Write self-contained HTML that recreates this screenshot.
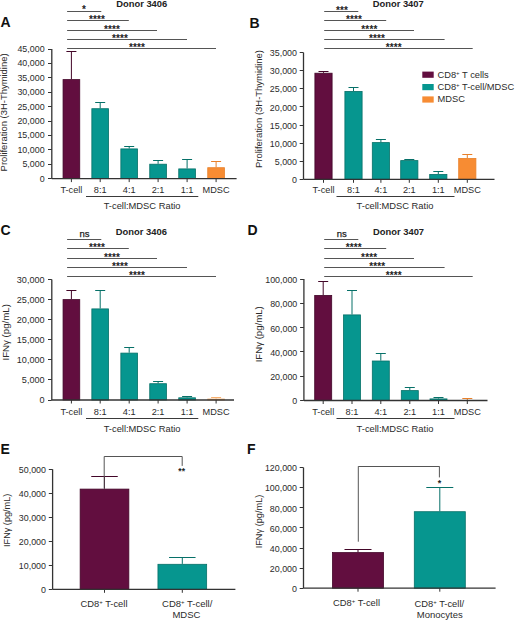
<!DOCTYPE html>
<html><head><meta charset="utf-8"><style>
html,body{margin:0;padding:0;background:#fff;width:520px;height:620px;overflow:hidden}
svg{display:block;font-family:"Liberation Sans",sans-serif}
</style></head><body>
<svg width="520" height="620" viewBox="0 0 520 620">
<rect width="520" height="620" fill="#fff"/>
<text x="0.5" y="27.3" font-size="14" text-anchor="start" font-weight="bold" fill="#111" >A</text>
<text x="116.2" y="7.2" font-size="9.4" text-anchor="start" font-weight="bold" fill="#222" >Donor 3406</text>
<line x1="67.1" y1="11.5" x2="101.3" y2="11.5" stroke="#555" stroke-width="1.0"/>
<line x1="67.1" y1="20.5" x2="128.8" y2="20.5" stroke="#555" stroke-width="1.0"/>
<line x1="67.1" y1="30.5" x2="157" y2="30.5" stroke="#555" stroke-width="1.0"/>
<line x1="67.1" y1="39.5" x2="187" y2="39.5" stroke="#555" stroke-width="1.0"/>
<line x1="67.1" y1="48.5" x2="216" y2="48.5" stroke="#555" stroke-width="1.0"/>
<text x="84" y="12.8" font-size="10" text-anchor="middle" font-weight="bold" fill="#222" letter-spacing="0.15">*</text>
<text x="97" y="22.9" font-size="10" text-anchor="middle" font-weight="bold" fill="#222" letter-spacing="0.15">****</text>
<text x="112" y="32.9" font-size="10" text-anchor="middle" font-weight="bold" fill="#222" letter-spacing="0.15">****</text>
<text x="120" y="41.9" font-size="10" text-anchor="middle" font-weight="bold" fill="#222" letter-spacing="0.15">****</text>
<text x="137" y="50.9" font-size="10" text-anchor="middle" font-weight="bold" fill="#222" letter-spacing="0.15">****</text>
<line x1="51.8" y1="49" x2="51.8" y2="178.6" stroke="#333333" stroke-width="1.3"/>
<line x1="48" y1="178.5" x2="51.8" y2="178.5" stroke="#333333" stroke-width="1.0"/>
<text x="44.6" y="181.6" font-size="8.9" text-anchor="end" font-weight="normal" fill="#2b2b2b" >0</text>
<line x1="48" y1="164.5" x2="51.8" y2="164.5" stroke="#333333" stroke-width="1.0"/>
<text x="44.6" y="167.2" font-size="8.9" text-anchor="end" font-weight="normal" fill="#2b2b2b" >5,000</text>
<line x1="48" y1="149.5" x2="51.8" y2="149.5" stroke="#333333" stroke-width="1.0"/>
<text x="44.6" y="152.8" font-size="8.9" text-anchor="end" font-weight="normal" fill="#2b2b2b" >10,000</text>
<line x1="48" y1="135.5" x2="51.8" y2="135.5" stroke="#333333" stroke-width="1.0"/>
<text x="44.6" y="138.4" font-size="8.9" text-anchor="end" font-weight="normal" fill="#2b2b2b" >15,000</text>
<line x1="48" y1="121.5" x2="51.8" y2="121.5" stroke="#333333" stroke-width="1.0"/>
<text x="44.6" y="124" font-size="8.9" text-anchor="end" font-weight="normal" fill="#2b2b2b" >20,000</text>
<line x1="48" y1="106.5" x2="51.8" y2="106.5" stroke="#333333" stroke-width="1.0"/>
<text x="44.6" y="109.6" font-size="8.9" text-anchor="end" font-weight="normal" fill="#2b2b2b" >25,000</text>
<line x1="48" y1="92.5" x2="51.8" y2="92.5" stroke="#333333" stroke-width="1.0"/>
<text x="44.6" y="95.2" font-size="8.9" text-anchor="end" font-weight="normal" fill="#2b2b2b" >30,000</text>
<line x1="48" y1="77.5" x2="51.8" y2="77.5" stroke="#333333" stroke-width="1.0"/>
<text x="44.6" y="80.8" font-size="8.9" text-anchor="end" font-weight="normal" fill="#2b2b2b" >35,000</text>
<line x1="48" y1="63.5" x2="51.8" y2="63.5" stroke="#333333" stroke-width="1.0"/>
<text x="44.6" y="66.4" font-size="8.9" text-anchor="end" font-weight="normal" fill="#2b2b2b" >40,000</text>
<line x1="48" y1="49.5" x2="51.8" y2="49.5" stroke="#333333" stroke-width="1.0"/>
<text x="44.6" y="52" font-size="8.9" text-anchor="end" font-weight="normal" fill="#2b2b2b" >45,000</text>
<text x="0" y="0" font-size="9.45" text-anchor="middle" fill="#2b2b2b" transform="translate(6.8,112.4) rotate(-90)">Proliferation (3H-Thymidine)</text>
<line x1="71.4" y1="51.5" x2="71.4" y2="79.2" stroke="#420628" stroke-width="1.0"/>
<line x1="66.4" y1="51.5" x2="76.4" y2="51.5" stroke="#420628" stroke-width="1.0"/>
<rect x="63.05" y="79.6" width="16.7" height="99" fill="#620e3f" stroke="#420628" stroke-width="0.8"/>
<line x1="71.4" y1="178.6" x2="71.4" y2="182.1" stroke="#333333" stroke-width="1.0"/>
<text x="71.4" y="192.5" font-size="9.2" text-anchor="middle" font-weight="normal" fill="#2b2b2b" >T-cell</text>
<line x1="100.2" y1="102.5" x2="100.2" y2="108.3" stroke="#067068" stroke-width="1.0"/>
<line x1="95.2" y1="102.5" x2="105.2" y2="102.5" stroke="#067068" stroke-width="1.0"/>
<rect x="91.85" y="108.7" width="16.7" height="69.9" fill="#06968f" stroke="#067068" stroke-width="0.8"/>
<line x1="100.2" y1="178.6" x2="100.2" y2="182.1" stroke="#333333" stroke-width="1.0"/>
<text x="100.2" y="192.5" font-size="9.2" text-anchor="middle" font-weight="normal" fill="#2b2b2b" >8:1</text>
<line x1="129.2" y1="146" x2="129.2" y2="148.5" stroke="#067068" stroke-width="1.0"/>
<line x1="124.2" y1="146.5" x2="134.2" y2="146.5" stroke="#067068" stroke-width="1.0"/>
<rect x="120.85" y="148.9" width="16.7" height="29.7" fill="#06968f" stroke="#067068" stroke-width="0.8"/>
<line x1="129.2" y1="178.6" x2="129.2" y2="182.1" stroke="#333333" stroke-width="1.0"/>
<text x="129.2" y="192.5" font-size="9.2" text-anchor="middle" font-weight="normal" fill="#2b2b2b" >4:1</text>
<line x1="158.1" y1="160.4" x2="158.1" y2="163.8" stroke="#067068" stroke-width="1.0"/>
<line x1="153.1" y1="160.5" x2="163.1" y2="160.5" stroke="#067068" stroke-width="1.0"/>
<rect x="149.75" y="164.2" width="16.7" height="14.4" fill="#06968f" stroke="#067068" stroke-width="0.8"/>
<line x1="158.1" y1="178.6" x2="158.1" y2="182.1" stroke="#333333" stroke-width="1.0"/>
<text x="158.1" y="192.5" font-size="9.2" text-anchor="middle" font-weight="normal" fill="#2b2b2b" >2:1</text>
<line x1="187.1" y1="159.8" x2="187.1" y2="168.5" stroke="#067068" stroke-width="1.0"/>
<line x1="182.1" y1="159.5" x2="192.1" y2="159.5" stroke="#067068" stroke-width="1.0"/>
<rect x="178.75" y="168.9" width="16.7" height="9.7" fill="#06968f" stroke="#067068" stroke-width="0.8"/>
<line x1="187.1" y1="178.6" x2="187.1" y2="182.1" stroke="#333333" stroke-width="1.0"/>
<text x="187.1" y="192.5" font-size="9.2" text-anchor="middle" font-weight="normal" fill="#2b2b2b" >1:1</text>
<line x1="216.1" y1="161.9" x2="216.1" y2="167.3" stroke="#e8802a" stroke-width="1.0"/>
<line x1="211.1" y1="161.5" x2="221.1" y2="161.5" stroke="#e8802a" stroke-width="1.0"/>
<rect x="207.75" y="167.7" width="16.7" height="10.9" fill="#f78c33" stroke="#e8802a" stroke-width="0.8"/>
<line x1="216.1" y1="178.6" x2="216.1" y2="182.1" stroke="#333333" stroke-width="1.0"/>
<text x="216.1" y="192.5" font-size="9.2" text-anchor="middle" font-weight="normal" fill="#2b2b2b" >MDSC</text>
<line x1="51.8" y1="178.6" x2="236.6" y2="178.6" stroke="#333333" stroke-width="1.3"/>
<line x1="86" y1="196.5" x2="198.3" y2="196.5" stroke="#3a3a3a" stroke-width="1.0"/>
<text x="142.1" y="209.3" font-size="9.35" text-anchor="middle" font-weight="normal" fill="#2b2b2b" >T-cell:MDSC Ratio</text>
<text x="249.5" y="27.7" font-size="14" text-anchor="start" font-weight="bold" fill="#111" >B</text>
<text x="372.7" y="7.2" font-size="9.4" text-anchor="start" font-weight="bold" fill="#222" >Donor 3407</text>
<line x1="324.2" y1="11.5" x2="358.3" y2="11.5" stroke="#555" stroke-width="1.0"/>
<line x1="324.2" y1="20.5" x2="386.2" y2="20.5" stroke="#555" stroke-width="1.0"/>
<line x1="324.2" y1="30.5" x2="414" y2="30.5" stroke="#555" stroke-width="1.0"/>
<line x1="324.2" y1="39.5" x2="444.6" y2="39.5" stroke="#555" stroke-width="1.0"/>
<line x1="324.2" y1="48.5" x2="472.7" y2="48.5" stroke="#555" stroke-width="1.0"/>
<text x="342" y="13.5" font-size="10" text-anchor="middle" font-weight="bold" fill="#222" letter-spacing="0.15">***</text>
<text x="354" y="22.5" font-size="10" text-anchor="middle" font-weight="bold" fill="#222" letter-spacing="0.15">****</text>
<text x="369.4" y="32.5" font-size="10" text-anchor="middle" font-weight="bold" fill="#222" letter-spacing="0.15">****</text>
<text x="377" y="41.5" font-size="10" text-anchor="middle" font-weight="bold" fill="#222" letter-spacing="0.15">****</text>
<text x="393.8" y="50.5" font-size="10" text-anchor="middle" font-weight="bold" fill="#222" letter-spacing="0.15">****</text>
<line x1="303.5" y1="52.6" x2="303.5" y2="179.3" stroke="#333333" stroke-width="1.3"/>
<line x1="299.7" y1="179.5" x2="303.5" y2="179.5" stroke="#333333" stroke-width="1.0"/>
<text x="297" y="182.9" font-size="8.9" text-anchor="end" font-weight="normal" fill="#2b2b2b" >0</text>
<line x1="299.7" y1="161.5" x2="303.5" y2="161.5" stroke="#333333" stroke-width="1.0"/>
<text x="297" y="164.8" font-size="8.9" text-anchor="end" font-weight="normal" fill="#2b2b2b" >5,000</text>
<line x1="299.7" y1="143.5" x2="303.5" y2="143.5" stroke="#333333" stroke-width="1.0"/>
<text x="297" y="146.7" font-size="8.9" text-anchor="end" font-weight="normal" fill="#2b2b2b" >10,000</text>
<line x1="299.7" y1="125.5" x2="303.5" y2="125.5" stroke="#333333" stroke-width="1.0"/>
<text x="297" y="128.6" font-size="8.9" text-anchor="end" font-weight="normal" fill="#2b2b2b" >15,000</text>
<line x1="299.7" y1="106.5" x2="303.5" y2="106.5" stroke="#333333" stroke-width="1.0"/>
<text x="297" y="110.5" font-size="8.9" text-anchor="end" font-weight="normal" fill="#2b2b2b" >20,000</text>
<line x1="299.7" y1="88.5" x2="303.5" y2="88.5" stroke="#333333" stroke-width="1.0"/>
<text x="297" y="92.4" font-size="8.9" text-anchor="end" font-weight="normal" fill="#2b2b2b" >25,000</text>
<line x1="299.7" y1="70.5" x2="303.5" y2="70.5" stroke="#333333" stroke-width="1.0"/>
<text x="297" y="74.3" font-size="8.9" text-anchor="end" font-weight="normal" fill="#2b2b2b" >30,000</text>
<line x1="299.7" y1="52.5" x2="303.5" y2="52.5" stroke="#333333" stroke-width="1.0"/>
<text x="297" y="56.2" font-size="8.9" text-anchor="end" font-weight="normal" fill="#2b2b2b" >35,000</text>
<text x="0" y="0" font-size="9.45" text-anchor="middle" fill="#2b2b2b" transform="translate(262.1,109) rotate(-90)">Proliferation (3H-Thymidine)</text>
<line x1="323.5" y1="71.5" x2="323.5" y2="72.8" stroke="#420628" stroke-width="1.0"/>
<line x1="318.5" y1="71.5" x2="328.5" y2="71.5" stroke="#420628" stroke-width="1.0"/>
<rect x="314.9" y="73.2" width="17.2" height="106.1" fill="#620e3f" stroke="#420628" stroke-width="0.8"/>
<line x1="323.5" y1="179.3" x2="323.5" y2="182.8" stroke="#333333" stroke-width="1.0"/>
<text x="323.5" y="192.9" font-size="9.2" text-anchor="middle" font-weight="normal" fill="#2b2b2b" >T-cell</text>
<line x1="353.5" y1="87.5" x2="353.5" y2="91" stroke="#067068" stroke-width="1.0"/>
<line x1="348.5" y1="87.5" x2="358.5" y2="87.5" stroke="#067068" stroke-width="1.0"/>
<rect x="344.9" y="91.4" width="17.2" height="87.9" fill="#06968f" stroke="#067068" stroke-width="0.8"/>
<line x1="353.5" y1="179.3" x2="353.5" y2="182.8" stroke="#333333" stroke-width="1.0"/>
<text x="353.5" y="192.9" font-size="9.2" text-anchor="middle" font-weight="normal" fill="#2b2b2b" >8:1</text>
<line x1="380.9" y1="139.4" x2="380.9" y2="142.2" stroke="#067068" stroke-width="1.0"/>
<line x1="375.9" y1="139.5" x2="385.9" y2="139.5" stroke="#067068" stroke-width="1.0"/>
<rect x="372.3" y="142.6" width="17.2" height="36.7" fill="#06968f" stroke="#067068" stroke-width="0.8"/>
<line x1="380.9" y1="179.3" x2="380.9" y2="182.8" stroke="#333333" stroke-width="1.0"/>
<text x="380.9" y="192.9" font-size="9.2" text-anchor="middle" font-weight="normal" fill="#2b2b2b" >4:1</text>
<line x1="409.3" y1="159.5" x2="409.3" y2="160.2" stroke="#067068" stroke-width="1.0"/>
<line x1="404.3" y1="159.5" x2="414.3" y2="159.5" stroke="#067068" stroke-width="1.0"/>
<rect x="400.7" y="160.6" width="17.2" height="18.7" fill="#06968f" stroke="#067068" stroke-width="0.8"/>
<line x1="409.3" y1="179.3" x2="409.3" y2="182.8" stroke="#333333" stroke-width="1.0"/>
<text x="409.3" y="192.9" font-size="9.2" text-anchor="middle" font-weight="normal" fill="#2b2b2b" >2:1</text>
<line x1="438.3" y1="171.3" x2="438.3" y2="174" stroke="#067068" stroke-width="1.0"/>
<line x1="433.3" y1="171.5" x2="443.3" y2="171.5" stroke="#067068" stroke-width="1.0"/>
<rect x="429.7" y="174.4" width="17.2" height="4.9" fill="#06968f" stroke="#067068" stroke-width="0.8"/>
<line x1="438.3" y1="179.3" x2="438.3" y2="182.8" stroke="#333333" stroke-width="1.0"/>
<text x="438.3" y="192.9" font-size="9.2" text-anchor="middle" font-weight="normal" fill="#2b2b2b" >1:1</text>
<line x1="467.3" y1="154.4" x2="467.3" y2="158" stroke="#e8802a" stroke-width="1.0"/>
<line x1="462.3" y1="154.5" x2="472.3" y2="154.5" stroke="#e8802a" stroke-width="1.0"/>
<rect x="458.7" y="158.4" width="17.2" height="20.9" fill="#f78c33" stroke="#e8802a" stroke-width="0.8"/>
<line x1="467.3" y1="179.3" x2="467.3" y2="182.8" stroke="#333333" stroke-width="1.0"/>
<text x="467.3" y="192.9" font-size="9.2" text-anchor="middle" font-weight="normal" fill="#2b2b2b" >MDSC</text>
<line x1="303.5" y1="179.3" x2="494.5" y2="179.3" stroke="#333333" stroke-width="1.3"/>
<line x1="336.5" y1="196.5" x2="454.5" y2="196.5" stroke="#3a3a3a" stroke-width="1.0"/>
<text x="395" y="209.3" font-size="9.35" text-anchor="middle" font-weight="normal" fill="#2b2b2b" >T-cell:MDSC Ratio</text>
<rect x="422.3" y="71.6" width="11.4" height="6.2" fill="#620e3f"/>
<text x="437.5" y="77.5" font-size="9.3" text-anchor="start" font-weight="normal" fill="#2b2b2b" >CD8<tspan dy='-3' font-size='6'>+</tspan><tspan dy='3'> T cells</tspan></text>
<rect x="422.3" y="84" width="11.4" height="6.2" fill="#06968f"/>
<text x="437.5" y="89.9" font-size="9.3" text-anchor="start" font-weight="normal" fill="#2b2b2b" >CD8<tspan dy='-3' font-size='6'>+</tspan><tspan dy='3'> T-cell/MDSC</tspan></text>
<rect x="422.3" y="96.4" width="11.4" height="6.2" fill="#f78c33"/>
<text x="437.5" y="102.3" font-size="9.3" text-anchor="start" font-weight="normal" fill="#2b2b2b" >MDSC</text>
<text x="0.5" y="235.3" font-size="14" text-anchor="start" font-weight="bold" fill="#111" >C</text>
<text x="115.8" y="235.4" font-size="9.4" text-anchor="start" font-weight="bold" fill="#222" >Donor 3406</text>
<line x1="67.1" y1="239.5" x2="101.3" y2="239.5" stroke="#555" stroke-width="1.0"/>
<line x1="67.1" y1="248.5" x2="128.8" y2="248.5" stroke="#555" stroke-width="1.0"/>
<line x1="67.1" y1="258.5" x2="157" y2="258.5" stroke="#555" stroke-width="1.0"/>
<line x1="67.1" y1="267.5" x2="187" y2="267.5" stroke="#555" stroke-width="1.0"/>
<line x1="67.1" y1="276.5" x2="216" y2="276.5" stroke="#555" stroke-width="1.0"/>
<text x="84.6" y="237" font-size="9.5" text-anchor="middle" font-weight="normal" fill="#222" stroke="#222" stroke-width="0.25">ns</text>
<text x="97" y="250.5" font-size="10" text-anchor="middle" font-weight="bold" fill="#222" letter-spacing="0.15">****</text>
<text x="112" y="260.5" font-size="10" text-anchor="middle" font-weight="bold" fill="#222" letter-spacing="0.15">****</text>
<text x="120" y="269.5" font-size="10" text-anchor="middle" font-weight="bold" fill="#222" letter-spacing="0.15">****</text>
<text x="137" y="278.5" font-size="10" text-anchor="middle" font-weight="bold" fill="#222" letter-spacing="0.15">****</text>
<line x1="51.8" y1="279.4" x2="51.8" y2="400" stroke="#333333" stroke-width="1.3"/>
<line x1="48" y1="400.5" x2="51.8" y2="400.5" stroke="#333333" stroke-width="1.0"/>
<text x="44.6" y="403.1" font-size="9.1" text-anchor="end" font-weight="normal" fill="#2b2b2b" >0</text>
<line x1="48" y1="379.5" x2="51.8" y2="379.5" stroke="#333333" stroke-width="1.0"/>
<text x="44.6" y="383" font-size="9.1" text-anchor="end" font-weight="normal" fill="#2b2b2b" >5,000</text>
<line x1="48" y1="359.5" x2="51.8" y2="359.5" stroke="#333333" stroke-width="1.0"/>
<text x="44.6" y="362.9" font-size="9.1" text-anchor="end" font-weight="normal" fill="#2b2b2b" >10,000</text>
<line x1="48" y1="339.5" x2="51.8" y2="339.5" stroke="#333333" stroke-width="1.0"/>
<text x="44.6" y="342.8" font-size="9.1" text-anchor="end" font-weight="normal" fill="#2b2b2b" >15,000</text>
<line x1="48" y1="319.5" x2="51.8" y2="319.5" stroke="#333333" stroke-width="1.0"/>
<text x="44.6" y="322.7" font-size="9.1" text-anchor="end" font-weight="normal" fill="#2b2b2b" >20,000</text>
<line x1="48" y1="299.5" x2="51.8" y2="299.5" stroke="#333333" stroke-width="1.0"/>
<text x="44.6" y="302.6" font-size="9.1" text-anchor="end" font-weight="normal" fill="#2b2b2b" >25,000</text>
<line x1="48" y1="279.5" x2="51.8" y2="279.5" stroke="#333333" stroke-width="1.0"/>
<text x="44.6" y="282.5" font-size="9.1" text-anchor="end" font-weight="normal" fill="#2b2b2b" >30,000</text>
<text x="0" y="0" font-size="9.7" text-anchor="middle" fill="#2b2b2b" transform="translate(8.7,332.3) rotate(-90)">IFNγ (pg/mL)</text>
<line x1="71.4" y1="290.2" x2="71.4" y2="299.2" stroke="#420628" stroke-width="1.0"/>
<line x1="66.4" y1="290.5" x2="76.4" y2="290.5" stroke="#420628" stroke-width="1.0"/>
<rect x="63.05" y="299.6" width="16.7" height="100.4" fill="#620e3f" stroke="#420628" stroke-width="0.8"/>
<line x1="71.4" y1="400" x2="71.4" y2="403.5" stroke="#333333" stroke-width="1.0"/>
<text x="71.4" y="414.5" font-size="9.2" text-anchor="middle" font-weight="normal" fill="#2b2b2b" >T-cell</text>
<line x1="100.2" y1="290.6" x2="100.2" y2="308.5" stroke="#067068" stroke-width="1.0"/>
<line x1="95.2" y1="290.5" x2="105.2" y2="290.5" stroke="#067068" stroke-width="1.0"/>
<rect x="91.85" y="308.9" width="16.7" height="91.1" fill="#06968f" stroke="#067068" stroke-width="0.8"/>
<line x1="100.2" y1="400" x2="100.2" y2="403.5" stroke="#333333" stroke-width="1.0"/>
<text x="100.2" y="414.5" font-size="9.2" text-anchor="middle" font-weight="normal" fill="#2b2b2b" >8:1</text>
<line x1="129.2" y1="347.9" x2="129.2" y2="352.7" stroke="#067068" stroke-width="1.0"/>
<line x1="124.2" y1="347.5" x2="134.2" y2="347.5" stroke="#067068" stroke-width="1.0"/>
<rect x="120.85" y="353.1" width="16.7" height="46.9" fill="#06968f" stroke="#067068" stroke-width="0.8"/>
<line x1="129.2" y1="400" x2="129.2" y2="403.5" stroke="#333333" stroke-width="1.0"/>
<text x="129.2" y="414.5" font-size="9.2" text-anchor="middle" font-weight="normal" fill="#2b2b2b" >4:1</text>
<line x1="158.1" y1="381.2" x2="158.1" y2="383.3" stroke="#067068" stroke-width="1.0"/>
<line x1="153.1" y1="381.5" x2="163.1" y2="381.5" stroke="#067068" stroke-width="1.0"/>
<rect x="149.75" y="383.7" width="16.7" height="16.3" fill="#06968f" stroke="#067068" stroke-width="0.8"/>
<line x1="158.1" y1="400" x2="158.1" y2="403.5" stroke="#333333" stroke-width="1.0"/>
<text x="158.1" y="414.5" font-size="9.2" text-anchor="middle" font-weight="normal" fill="#2b2b2b" >2:1</text>
<line x1="187.1" y1="396.9" x2="187.1" y2="397.4" stroke="#067068" stroke-width="1.0"/>
<line x1="182.1" y1="396.5" x2="192.1" y2="396.5" stroke="#067068" stroke-width="1.0"/>
<rect x="178.75" y="397.8" width="16.7" height="2.2" fill="#06968f" stroke="#067068" stroke-width="0.8"/>
<line x1="187.1" y1="400" x2="187.1" y2="403.5" stroke="#333333" stroke-width="1.0"/>
<text x="187.1" y="414.5" font-size="9.2" text-anchor="middle" font-weight="normal" fill="#2b2b2b" >1:1</text>
<line x1="216.1" y1="397.6" x2="216.1" y2="398.6" stroke="#f6b070" stroke-width="1.0"/>
<line x1="211.1" y1="397.5" x2="221.1" y2="397.5" stroke="#f6b070" stroke-width="1.0"/>
<rect x="207.75" y="399" width="16.7" height="1" fill="#f8c48c" stroke="#f6b070" stroke-width="0.8"/>
<line x1="216.1" y1="400" x2="216.1" y2="403.5" stroke="#333333" stroke-width="1.0"/>
<text x="216.1" y="414.5" font-size="9.2" text-anchor="middle" font-weight="normal" fill="#2b2b2b" >MDSC</text>
<line x1="51.8" y1="400" x2="234" y2="400" stroke="#333333" stroke-width="1.3"/>
<line x1="86" y1="418.5" x2="198.3" y2="418.5" stroke="#3a3a3a" stroke-width="1.0"/>
<text x="142.1" y="431.8" font-size="9.35" text-anchor="middle" font-weight="normal" fill="#2b2b2b" >T-cell:MDSC Ratio</text>
<text x="247.6" y="235" font-size="14" text-anchor="start" font-weight="bold" fill="#111" >D</text>
<text x="373" y="235.4" font-size="9.4" text-anchor="start" font-weight="bold" fill="#222" >Donor 3407</text>
<line x1="324.2" y1="239.5" x2="358.3" y2="239.5" stroke="#555" stroke-width="1.0"/>
<line x1="324.2" y1="248.5" x2="386.2" y2="248.5" stroke="#555" stroke-width="1.0"/>
<line x1="324.2" y1="258.5" x2="414" y2="258.5" stroke="#555" stroke-width="1.0"/>
<line x1="324.2" y1="267.5" x2="444.6" y2="267.5" stroke="#555" stroke-width="1.0"/>
<line x1="324.2" y1="276.5" x2="472.7" y2="276.5" stroke="#555" stroke-width="1.0"/>
<text x="341.7" y="237" font-size="9.5" text-anchor="middle" font-weight="normal" fill="#222" stroke="#222" stroke-width="0.25">ns</text>
<text x="353.8" y="250.5" font-size="10" text-anchor="middle" font-weight="bold" fill="#222" letter-spacing="0.15">****</text>
<text x="369.2" y="260.5" font-size="10" text-anchor="middle" font-weight="bold" fill="#222" letter-spacing="0.15">****</text>
<text x="377.3" y="269.5" font-size="10" text-anchor="middle" font-weight="bold" fill="#222" letter-spacing="0.15">****</text>
<text x="393.8" y="278.5" font-size="10" text-anchor="middle" font-weight="bold" fill="#222" letter-spacing="0.15">****</text>
<line x1="303.9" y1="279" x2="303.9" y2="400.5" stroke="#333333" stroke-width="1.3"/>
<line x1="300.1" y1="400.5" x2="303.9" y2="400.5" stroke="#333333" stroke-width="1.0"/>
<text x="297.3" y="404.4" font-size="8.9" text-anchor="end" font-weight="normal" fill="#2b2b2b" >0</text>
<line x1="300.1" y1="376.5" x2="303.9" y2="376.5" stroke="#333333" stroke-width="1.0"/>
<text x="297.3" y="380.1" font-size="8.9" text-anchor="end" font-weight="normal" fill="#2b2b2b" >20,000</text>
<line x1="300.1" y1="351.5" x2="303.9" y2="351.5" stroke="#333333" stroke-width="1.0"/>
<text x="297.3" y="355.8" font-size="8.9" text-anchor="end" font-weight="normal" fill="#2b2b2b" >40,000</text>
<line x1="300.1" y1="327.5" x2="303.9" y2="327.5" stroke="#333333" stroke-width="1.0"/>
<text x="297.3" y="331.5" font-size="8.9" text-anchor="end" font-weight="normal" fill="#2b2b2b" >60,000</text>
<line x1="300.1" y1="303.5" x2="303.9" y2="303.5" stroke="#333333" stroke-width="1.0"/>
<text x="297.3" y="307.2" font-size="8.9" text-anchor="end" font-weight="normal" fill="#2b2b2b" >80,000</text>
<line x1="300.1" y1="279.5" x2="303.9" y2="279.5" stroke="#333333" stroke-width="1.0"/>
<text x="297.3" y="282.9" font-size="8.9" text-anchor="end" font-weight="normal" fill="#2b2b2b" >100,000</text>
<text x="0" y="0" font-size="9.65" text-anchor="middle" fill="#2b2b2b" transform="translate(261.7,334.25) rotate(-90)">IFNγ (pg/mL)</text>
<line x1="323.2" y1="281.5" x2="323.2" y2="295" stroke="#420628" stroke-width="1.0"/>
<line x1="318.2" y1="281.5" x2="328.2" y2="281.5" stroke="#420628" stroke-width="1.0"/>
<rect x="314.7" y="295.4" width="17" height="105.1" fill="#620e3f" stroke="#420628" stroke-width="0.8"/>
<line x1="323.2" y1="400.5" x2="323.2" y2="404" stroke="#333333" stroke-width="1.0"/>
<text x="323.2" y="414.6" font-size="9.2" text-anchor="middle" font-weight="normal" fill="#2b2b2b" >T-cell</text>
<line x1="352" y1="290.8" x2="352" y2="314.5" stroke="#067068" stroke-width="1.0"/>
<line x1="347" y1="290.5" x2="357" y2="290.5" stroke="#067068" stroke-width="1.0"/>
<rect x="343.5" y="314.9" width="17" height="85.6" fill="#06968f" stroke="#067068" stroke-width="0.8"/>
<line x1="352" y1="400.5" x2="352" y2="404" stroke="#333333" stroke-width="1.0"/>
<text x="352" y="414.6" font-size="9.2" text-anchor="middle" font-weight="normal" fill="#2b2b2b" >8:1</text>
<line x1="380.8" y1="353.8" x2="380.8" y2="360.6" stroke="#067068" stroke-width="1.0"/>
<line x1="375.8" y1="353.5" x2="385.8" y2="353.5" stroke="#067068" stroke-width="1.0"/>
<rect x="372.3" y="361" width="17" height="39.5" fill="#06968f" stroke="#067068" stroke-width="0.8"/>
<line x1="380.8" y1="400.5" x2="380.8" y2="404" stroke="#333333" stroke-width="1.0"/>
<text x="380.8" y="414.6" font-size="9.2" text-anchor="middle" font-weight="normal" fill="#2b2b2b" >4:1</text>
<line x1="409.8" y1="387.7" x2="409.8" y2="390.2" stroke="#067068" stroke-width="1.0"/>
<line x1="404.8" y1="387.5" x2="414.8" y2="387.5" stroke="#067068" stroke-width="1.0"/>
<rect x="401.3" y="390.6" width="17" height="9.9" fill="#06968f" stroke="#067068" stroke-width="0.8"/>
<line x1="409.8" y1="400.5" x2="409.8" y2="404" stroke="#333333" stroke-width="1.0"/>
<text x="409.8" y="414.6" font-size="9.2" text-anchor="middle" font-weight="normal" fill="#2b2b2b" >2:1</text>
<line x1="438.5" y1="397" x2="438.5" y2="398.5" stroke="#067068" stroke-width="1.0"/>
<line x1="433.5" y1="397.5" x2="443.5" y2="397.5" stroke="#067068" stroke-width="1.0"/>
<rect x="430" y="398.9" width="17" height="1.6" fill="#06968f" stroke="#067068" stroke-width="0.8"/>
<line x1="438.5" y1="400.5" x2="438.5" y2="404" stroke="#333333" stroke-width="1.0"/>
<text x="438.5" y="414.6" font-size="9.2" text-anchor="middle" font-weight="normal" fill="#2b2b2b" >1:1</text>
<line x1="467.3" y1="398.3" x2="467.3" y2="400" stroke="#e8802a" stroke-width="1.0"/>
<line x1="462.3" y1="398.5" x2="472.3" y2="398.5" stroke="#e8802a" stroke-width="1.0"/>
<rect x="458.8" y="400.4" width="17" height="0.1" fill="#f78c33" stroke="#e8802a" stroke-width="0.8"/>
<line x1="467.3" y1="400.5" x2="467.3" y2="404" stroke="#333333" stroke-width="1.0"/>
<text x="467.3" y="414.6" font-size="9.2" text-anchor="middle" font-weight="normal" fill="#2b2b2b" >MDSC</text>
<line x1="303.9" y1="400.5" x2="487.5" y2="400.5" stroke="#333333" stroke-width="1.3"/>
<line x1="336.5" y1="418.5" x2="454.5" y2="418.5" stroke="#3a3a3a" stroke-width="1.0"/>
<text x="395" y="431.8" font-size="9.35" text-anchor="middle" font-weight="normal" fill="#2b2b2b" >T-cell:MDSC Ratio</text>
<text x="0.5" y="453.5" font-size="14" text-anchor="start" font-weight="bold" fill="#111" >E</text>
<line x1="52.6" y1="469.3" x2="52.6" y2="589.3" stroke="#333333" stroke-width="1.3"/>
<line x1="48.8" y1="589.5" x2="52.6" y2="589.5" stroke="#333333" stroke-width="1.0"/>
<text x="46" y="593.1" font-size="8.9" text-anchor="end" font-weight="normal" fill="#2b2b2b" >0</text>
<line x1="48.8" y1="565.5" x2="52.6" y2="565.5" stroke="#333333" stroke-width="1.0"/>
<text x="46" y="569.1" font-size="8.9" text-anchor="end" font-weight="normal" fill="#2b2b2b" >10,000</text>
<line x1="48.8" y1="541.5" x2="52.6" y2="541.5" stroke="#333333" stroke-width="1.0"/>
<text x="46" y="545.1" font-size="8.9" text-anchor="end" font-weight="normal" fill="#2b2b2b" >20,000</text>
<line x1="48.8" y1="517.5" x2="52.6" y2="517.5" stroke="#333333" stroke-width="1.0"/>
<text x="46" y="521.1" font-size="8.9" text-anchor="end" font-weight="normal" fill="#2b2b2b" >30,000</text>
<line x1="48.8" y1="493.5" x2="52.6" y2="493.5" stroke="#333333" stroke-width="1.0"/>
<text x="46" y="497.1" font-size="8.9" text-anchor="end" font-weight="normal" fill="#2b2b2b" >40,000</text>
<line x1="48.8" y1="469.5" x2="52.6" y2="469.5" stroke="#333333" stroke-width="1.0"/>
<text x="46" y="473.1" font-size="8.9" text-anchor="end" font-weight="normal" fill="#2b2b2b" >50,000</text>
<text x="0" y="0" font-size="9.15" text-anchor="middle" fill="#2b2b2b" transform="translate(9.7,520.3) rotate(-90)">IFNγ (pg/mL)</text>
<line x1="104.5" y1="476.2" x2="104.5" y2="488.7" stroke="#420628" stroke-width="1.0"/>
<line x1="91.25" y1="476.5" x2="117.75" y2="476.5" stroke="#420628" stroke-width="1.0"/>
<rect x="80.15" y="489.1" width="48.7" height="100.2" fill="#620e3f" stroke="#420628" stroke-width="0.8"/>
<line x1="104.5" y1="589.3" x2="104.5" y2="592.8" stroke="#333333" stroke-width="1.0"/>
<line x1="182.3" y1="557.2" x2="182.3" y2="563.9" stroke="#067068" stroke-width="1.0"/>
<line x1="169.05" y1="557.5" x2="195.55" y2="557.5" stroke="#067068" stroke-width="1.0"/>
<rect x="157.95" y="564.3" width="48.7" height="25" fill="#06968f" stroke="#067068" stroke-width="0.8"/>
<line x1="182.3" y1="589.3" x2="182.3" y2="592.8" stroke="#333333" stroke-width="1.0"/>
<line x1="52.6" y1="589.3" x2="235.4" y2="589.3" stroke="#333333" stroke-width="1.3"/>
<line x1="104.2" y1="456.5" x2="104.2" y2="488.7" stroke="#555" stroke-width="1.0"/>
<line x1="104.2" y1="456.5" x2="182.2" y2="456.5" stroke="#555" stroke-width="1.0"/>
<line x1="182.2" y1="456.5" x2="182.2" y2="465.9" stroke="#555" stroke-width="1.0"/>
<text x="181.8" y="474.3" font-size="8.6" text-anchor="middle" font-weight="bold" fill="#222" letter-spacing="0.2">**</text>
<text x="104" y="606.9" font-size="9.35" text-anchor="middle" font-weight="normal" fill="#2b2b2b" >CD8<tspan dy='-3' font-size='6'>+</tspan><tspan dy='3'> T-cell</tspan></text>
<text x="187.2" y="606.5" font-size="9.5" text-anchor="middle" font-weight="normal" fill="#2b2b2b" >CD8<tspan dy='-3' font-size='6'>+</tspan><tspan dy='3'> T-cell/</tspan></text>
<text x="186.4" y="617.8" font-size="9.5" text-anchor="middle" font-weight="normal" fill="#2b2b2b" >MDSC</text>
<text x="247" y="453.6" font-size="14" text-anchor="start" font-weight="bold" fill="#111" >F</text>
<line x1="303.5" y1="467.6" x2="303.5" y2="588.2" stroke="#333333" stroke-width="1.3"/>
<line x1="299.7" y1="588.5" x2="303.5" y2="588.5" stroke="#333333" stroke-width="1.0"/>
<text x="297" y="591.9" font-size="8.9" text-anchor="end" font-weight="normal" fill="#2b2b2b" >0</text>
<line x1="299.7" y1="568.5" x2="303.5" y2="568.5" stroke="#333333" stroke-width="1.0"/>
<text x="297" y="571.8" font-size="8.9" text-anchor="end" font-weight="normal" fill="#2b2b2b" >20,000</text>
<line x1="299.7" y1="548.5" x2="303.5" y2="548.5" stroke="#333333" stroke-width="1.0"/>
<text x="297" y="551.7" font-size="8.9" text-anchor="end" font-weight="normal" fill="#2b2b2b" >40,000</text>
<line x1="299.7" y1="527.5" x2="303.5" y2="527.5" stroke="#333333" stroke-width="1.0"/>
<text x="297" y="531.6" font-size="8.9" text-anchor="end" font-weight="normal" fill="#2b2b2b" >60,000</text>
<line x1="299.7" y1="507.5" x2="303.5" y2="507.5" stroke="#333333" stroke-width="1.0"/>
<text x="297" y="511.5" font-size="8.9" text-anchor="end" font-weight="normal" fill="#2b2b2b" >80,000</text>
<line x1="299.7" y1="487.5" x2="303.5" y2="487.5" stroke="#333333" stroke-width="1.0"/>
<text x="297" y="491.4" font-size="8.9" text-anchor="end" font-weight="normal" fill="#2b2b2b" >100,000</text>
<line x1="299.7" y1="467.5" x2="303.5" y2="467.5" stroke="#333333" stroke-width="1.0"/>
<text x="297" y="471.3" font-size="8.9" text-anchor="end" font-weight="normal" fill="#2b2b2b" >120,000</text>
<text x="0" y="0" font-size="9.2" text-anchor="middle" fill="#2b2b2b" transform="translate(262,521.5) rotate(-90)">IFNγ (pg/mL)</text>
<line x1="358" y1="549.4" x2="358" y2="552.2" stroke="#420628" stroke-width="1.0"/>
<line x1="344.5" y1="549.5" x2="371.5" y2="549.5" stroke="#420628" stroke-width="1.0"/>
<rect x="332.5" y="552.6" width="51" height="35.6" fill="#620e3f" stroke="#420628" stroke-width="0.8"/>
<line x1="358" y1="588.2" x2="358" y2="591.7" stroke="#333333" stroke-width="1.0"/>
<line x1="439.8" y1="487.5" x2="439.8" y2="511.3" stroke="#067068" stroke-width="1.0"/>
<line x1="426.3" y1="487.5" x2="453.3" y2="487.5" stroke="#067068" stroke-width="1.0"/>
<rect x="414.3" y="511.7" width="51" height="76.5" fill="#06968f" stroke="#067068" stroke-width="0.8"/>
<line x1="439.8" y1="588.2" x2="439.8" y2="591.7" stroke="#333333" stroke-width="1.0"/>
<line x1="303.5" y1="588.2" x2="495.6" y2="588.2" stroke="#333333" stroke-width="1.3"/>
<line x1="358.3" y1="466.3" x2="358.3" y2="541.7" stroke="#555" stroke-width="1.0"/>
<line x1="358.3" y1="466.5" x2="439.4" y2="466.5" stroke="#555" stroke-width="1.0"/>
<line x1="439.4" y1="466.3" x2="439.4" y2="477.4" stroke="#555" stroke-width="1.0"/>
<text x="439.4" y="486" font-size="9" text-anchor="middle" font-weight="bold" fill="#222" >*</text>
<text x="356.5" y="606.1" font-size="9.35" text-anchor="middle" font-weight="normal" fill="#2b2b2b" >CD8<tspan dy='-3' font-size='6'>+</tspan><tspan dy='3'> T-cell</tspan></text>
<text x="439.3" y="607.2" font-size="9.35" text-anchor="middle" font-weight="normal" fill="#2b2b2b" >CD8<tspan dy='-3' font-size='6'>+</tspan><tspan dy='3'> T-cell/</tspan></text>
<text x="439.8" y="617.8" font-size="9.5" text-anchor="middle" font-weight="normal" fill="#2b2b2b" >Monocytes</text>
</svg>
</body></html>
